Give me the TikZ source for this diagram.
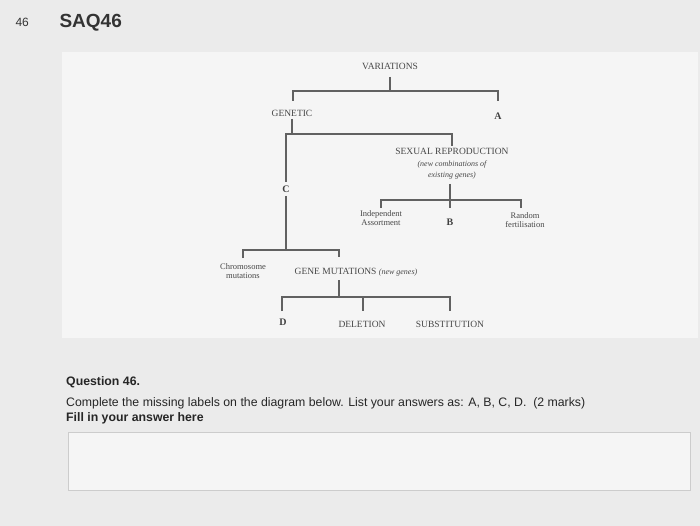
\documentclass[tikz,border=0pt]{standalone}
\usepackage{fontspec}
\setmainfont{Liberation Serif}
\newfontfamily\uisans{Liberation Sans}
\begin{document}
\begin{tikzpicture}[x=1pt,y=-1pt,
  lbl/.style={font=\fontsize{9.5}{10.5}\selectfont,text=black!72,inner sep=0pt,align=center},
  sm/.style={lbl,font=\fontsize{8.5}{9.5}\selectfont},
  big/.style={font=\fontsize{10}{11}\selectfont\bfseries,text=black!75,inner sep=0pt},
  ln/.style={draw=black!62,line width=1.1pt},
  q/.style={font=\uisans\fontsize{12.3}{14}\selectfont,text=black!85,anchor=west,inner sep=0pt}]
\fill[black!8] (0,0) rectangle (700,526);
\useasboundingbox (0,0) rectangle (700,526);
\fill[black!4] (62,52) rectangle (698,338);
\node[font=\uisans\fontsize{12}{14}\selectfont,text=black!80,anchor=west] (num) at (12,22) {46};
\node[font=\uisans\bfseries\fontsize{19}{22}\selectfont,text=black!80,anchor=west] (title) at (56,23) {SAQ46};
% diagram
\node[lbl] (var) at (390,66) {VARIATIONS};
\node[lbl] (gen) at (292,113) {GENETIC};
\node[big] (A) at (498,116) {A};
\node[lbl] (sex) at (452,164) {SEXUAL REPRODUCTION\\[1pt]{\itshape\fontsize{8}{9}\selectfont (new combinations of}\\[1pt]{\itshape\fontsize{8}{9}\selectfont existing genes)}};
\node[big] (C) at (286,189) {C};
\node[sm] (ind) at (381,218) {Independent\\Assortment};
\node[big] (B) at (450,222) {B};
\node[sm] (rnd) at (525,220) {Random\\fertilisation};
\node[sm] (chr) at (243,271) {Chromosome\\mutations};
\node[lbl] (gm) at (356,272) {GENE MUTATIONS {\itshape\fontsize{8}{9}\selectfont (new genes)}};
\node[big] (D) at (283,322) {D};
\node[lbl] (del) at (362,324) {DELETION};
\node[lbl] (sub) at (450,324) {SUBSTITUTION};
% junctions
\coordinate (j1) at (390,91);
\coordinate (j2) at (292,134);
\coordinate (j3) at (450,200);
\coordinate (j4) at (286,250);
\coordinate (j5) at (339,297);
% connectors
\draw[ln] (var.south |- 0,77) -- (j1);
\draw[ln] (293,101) |- (j1) -| (A.north |- 0,101);
\draw[ln] (gen.south |- 0,119) -- (j2);
\draw[ln] (C.north |- 0,182) |- (j2) -| (452,146);
\draw[ln] (C.south |- 0,196) -- (j4);
\draw[ln] (j3 |- 0,184) -- (j3);
\draw[ln] (ind.north |- 0,208) |- (j3) -| (521,208);
\draw[ln] (j3) -- (450,208);
\draw[ln] (243,258) |- (j4) -| (339,257);
\draw[ln] (339,280) -- (j5);
\draw[ln] (282,311) |- (j5) -| (sub.north |- 0,311);
\draw[ln] (363,297) -- (363,311);
% question
\node[q,font=\uisans\bfseries\fontsize{12.3}{14}\selectfont] (qt) at (66,382) {Question 46.};
\node[q] (qb) at (66,403) {Complete the missing labels on the diagram below. List your answers as: A, B, C, D.\ \ (2 marks)};
\node[q,font=\uisans\bfseries\fontsize{12.3}{14}\selectfont] (fill) at (66,418) {Fill in your answer here};
\draw[black!20,fill=black!4] (68,432) rectangle (690,490);
\end{tikzpicture}
\end{document}
